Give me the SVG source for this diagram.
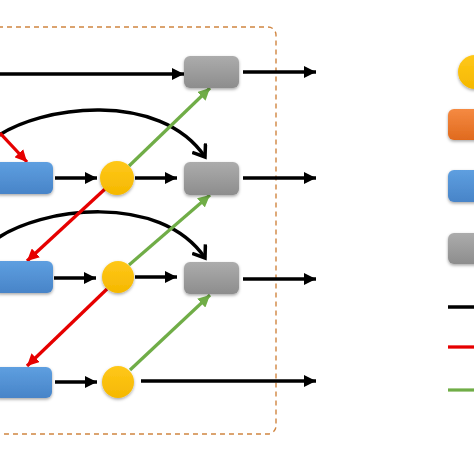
<svg xmlns="http://www.w3.org/2000/svg" width="474" height="474" viewBox="0 0 474 474">
<style>
.k{stroke:#000;stroke-width:3.5;fill:none}
.r{stroke:#e60000;stroke-width:3.3;fill:none}
.g{stroke:#70ad47;stroke-width:3.2;fill:none}
.gray{fill:url(#gGray);filter:url(#sh)}
.blue{fill:url(#gBlue);filter:url(#sh)}
.yel{fill:url(#gYel);filter:url(#sh)}
.org{fill:url(#gOrg);filter:url(#sh)}
</style>
<defs>
<linearGradient id="gGray" x1="0" y1="0" x2="0" y2="1"><stop offset="0" stop-color="#acacac"/><stop offset="1" stop-color="#8d8d8d"/></linearGradient>
<linearGradient id="gBlue" x1="0" y1="0" x2="0" y2="1"><stop offset="0" stop-color="#5e9fe0"/><stop offset="1" stop-color="#4884c8"/></linearGradient>
<linearGradient id="gYel" x1="0" y1="0" x2="0" y2="1"><stop offset="0" stop-color="#ffc81a"/><stop offset="1" stop-color="#f5b800"/></linearGradient>
<linearGradient id="gOrg" x1="0" y1="0" x2="0" y2="1"><stop offset="0" stop-color="#f58a42"/><stop offset="1" stop-color="#e06a1e"/></linearGradient>
<filter id="sh" x="-20%" y="-20%" width="140%" height="150%"><feDropShadow dx="0" dy="1.5" stdDeviation="1.5" flood-color="#000" flood-opacity="0.35"/></filter>
<marker id="aK" markerUnits="userSpaceOnUse" markerWidth="13" markerHeight="12" refX="12" refY="6" orient="auto"><path d="M0,0 L12,6 L0,12 z" fill="#000"/></marker>
<marker id="aR" markerUnits="userSpaceOnUse" markerWidth="13" markerHeight="12" refX="12" refY="6" orient="auto"><path d="M0,0 L12,6 L0,12 z" fill="#e60000"/></marker>
<marker id="aG" markerUnits="userSpaceOnUse" markerWidth="13" markerHeight="12" refX="12" refY="6" orient="auto"><path d="M0,0 L12,6 L0,12 z" fill="#70ad47"/></marker>
<marker id="aV" markerUnits="userSpaceOnUse" markerWidth="15" markerHeight="18" refX="12" refY="9" orient="auto"><path d="M1,1 L12,9 L1,17" fill="none" stroke="#000" stroke-width="3.5"/></marker>
</defs>
<rect id="frame" x="-10" y="27" width="286" height="407" rx="8" fill="none" stroke="#d08540" stroke-width="1.4" stroke-dasharray="5 4"/>
<g id="connectors">
<line class="k" x1="0" y1="74" x2="184" y2="74" marker-end="url(#aK)"/>
<line class="k" x1="243" y1="72" x2="316" y2="72" marker-end="url(#aK)"/>
<line class="k" x1="55" y1="178" x2="97" y2="178" marker-end="url(#aK)"/>
<line class="k" x1="135" y1="178" x2="177" y2="178" marker-end="url(#aK)"/>
<line class="k" x1="243" y1="178" x2="316" y2="178" marker-end="url(#aK)"/>
<line class="k" x1="54" y1="278" x2="96" y2="278" marker-end="url(#aK)"/>
<line class="k" x1="135" y1="277" x2="177" y2="277" marker-end="url(#aK)"/>
<line class="k" x1="243" y1="279" x2="316" y2="279" marker-end="url(#aK)"/>
<line class="k" x1="55" y1="382" x2="97" y2="382" marker-end="url(#aK)"/>
<line class="k" x1="141" y1="381" x2="316" y2="381" marker-end="url(#aK)"/>
<path class="k" d="M-5,138 C40,105 160,90 205,157" marker-end="url(#aV)"/>
<path class="k" d="M-5,240 C40,207 160,192 205,258" marker-end="url(#aV)"/>
<line class="r" x1="0" y1="133" x2="27" y2="162" marker-end="url(#aR)"/>
<line class="r" x1="105" y1="189" x2="27" y2="261" marker-end="url(#aR)"/>
<line class="r" x1="107" y1="289" x2="27" y2="366" marker-end="url(#aR)"/>
<line class="g" x1="129" y1="166" x2="210" y2="88" marker-end="url(#aG)"/>
<line class="g" x1="129" y1="265" x2="210" y2="195" marker-end="url(#aG)"/>
<line class="g" x1="130" y1="370" x2="210" y2="295" marker-end="url(#aG)"/>
</g>
<g id="gray1"><rect class="gray" x="184" y="56" width="55" height="32" rx="6"/></g>
<g id="gray2"><rect class="gray" x="184" y="162" width="55" height="33" rx="6"/></g>
<g id="gray3"><rect class="gray" x="184" y="262" width="55" height="32" rx="6"/></g>
<g id="blue1"><rect class="blue" x="-6" y="162" width="59" height="32" rx="6"/></g>
<g id="blue2"><rect class="blue" x="-6" y="261" width="59" height="32" rx="6"/></g>
<g id="blue3"><rect class="blue" x="-6" y="367" width="58" height="31" rx="6"/></g>
<g id="circle1"><circle class="yel" cx="117" cy="178" r="17"/></g>
<g id="circle2"><circle class="yel" cx="118" cy="277" r="16"/></g>
<g id="circle3"><circle class="yel" cx="118" cy="382" r="16"/></g>
<g id="legend">
<circle class="yel" cx="475" cy="72" r="17"/>
<rect class="org" x="448" y="109" width="55" height="31" rx="6"/>
<rect class="blue" x="448" y="170" width="55" height="32" rx="6"/>
<rect class="gray" x="448" y="233" width="55" height="31" rx="6"/>
<line class="k" x1="448" y1="307" x2="480" y2="307"/>
<line class="r" x1="448" y1="347" x2="480" y2="347"/>
<line class="g" x1="448" y1="390" x2="480" y2="390"/>
</g>
</svg>
